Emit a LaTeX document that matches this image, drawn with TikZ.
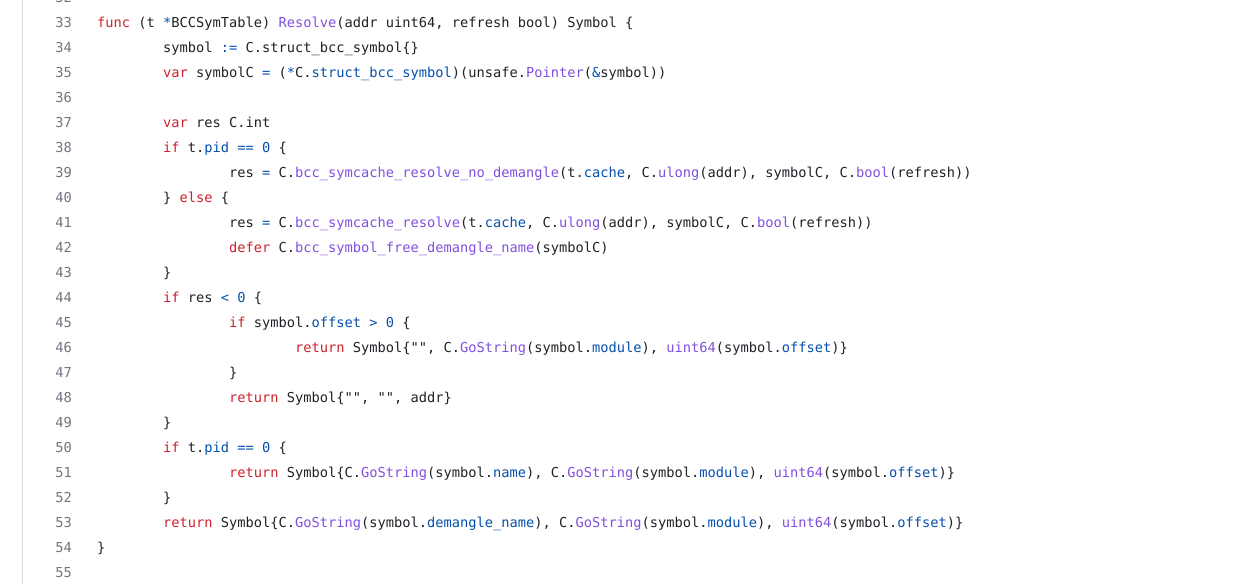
\documentclass[tikz,border=0pt]{standalone}
\usepackage{fontspec}
\setmonofont{DejaVu Sans Mono}
\definecolor{kw}{HTML}{CF222E}
\definecolor{fn}{HTML}{8250DF}
\definecolor{bl}{HTML}{0550AE}
\definecolor{tx}{HTML}{1F2328}
\definecolor{ln}{HTML}{6E7781}
\newcommand{\K}[1]{\textcolor{kw}{#1}}
\newcommand{\F}[1]{\textcolor{fn}{#1}}
\newcommand{\B}[1]{\textcolor{bl}{#1}}
\begin{document}
\begin{tikzpicture}[x=1pt,y=-1pt,
  code/.style={anchor=base west,inner sep=0pt,text=tx,font=\ttfamily\fontsize{13.7}{16}\selectfont},
  num/.style={anchor=base east,inner sep=0pt,text=ln,font=\ttfamily\fontsize{13.7}{16}\selectfont}]
\useasboundingbox[fill=white] (0,0) rectangle (1242,584);
\draw[draw=black!15,line width=1pt] (22,0) -- (22,584);
\foreach \n in {32,...,55}{
  \node[num] (n\n) at (72,{27+25*(\n-33)}) {\n};
}
\def\L#1#2#3{\node[code] (c#1) at ({97+66*#2},{27+25*(#1-33)}) {#3};}
\L{33}{0}{\K{func} (t \B{*}BCCSymTable) \F{Resolve}(addr uint64, refresh bool) Symbol \{}
\L{34}{1}{symbol \B{:=} C.struct\_bcc\_symbol\{\}}
\L{35}{1}{\K{var} symbolC \B{=} (\B{*}C.\B{struct\_bcc\_symbol})(unsafe.\F{Pointer}(\B{\&}symbol))}
\L{37}{1}{\K{var} res C.int}
\L{38}{1}{\K{if} t.\B{pid} \B{==} \B{0} \{}
\L{39}{2}{res \B{=} C.\F{bcc\_symcache\_resolve\_no\_demangle}(t.\B{cache}, C.\F{ulong}(addr), symbolC, C.\F{bool}(refresh))}
\L{40}{1}{\} \K{else} \{}
\L{41}{2}{res \B{=} C.\F{bcc\_symcache\_resolve}(t.\B{cache}, C.\F{ulong}(addr), symbolC, C.\F{bool}(refresh))}
\L{42}{2}{\K{defer} C.\F{bcc\_symbol\_free\_demangle\_name}(symbolC)}
\L{43}{1}{\}}
\L{44}{1}{\K{if} res \B{<} \B{0} \{}
\L{45}{2}{\K{if} symbol.\B{offset} \B{>} \B{0} \{}
\L{46}{3}{\K{return} Symbol\{"", C.\F{GoString}(symbol.\B{module}), \F{uint64}(symbol.\B{offset})\}}
\L{47}{2}{\}}
\L{48}{2}{\K{return} Symbol\{"", "", addr\}}
\L{49}{1}{\}}
\L{50}{1}{\K{if} t.\B{pid} \B{==} \B{0} \{}
\L{51}{2}{\K{return} Symbol\{C.\F{GoString}(symbol.\B{name}), C.\F{GoString}(symbol.\B{module}), \F{uint64}(symbol.\B{offset})\}}
\L{52}{1}{\}}
\L{53}{1}{\K{return} Symbol\{C.\F{GoString}(symbol.\B{demangle\_name}), C.\F{GoString}(symbol.\B{module}), \F{uint64}(symbol.\B{offset})\}}
\L{54}{0}{\}}
\end{tikzpicture}
\end{document}
